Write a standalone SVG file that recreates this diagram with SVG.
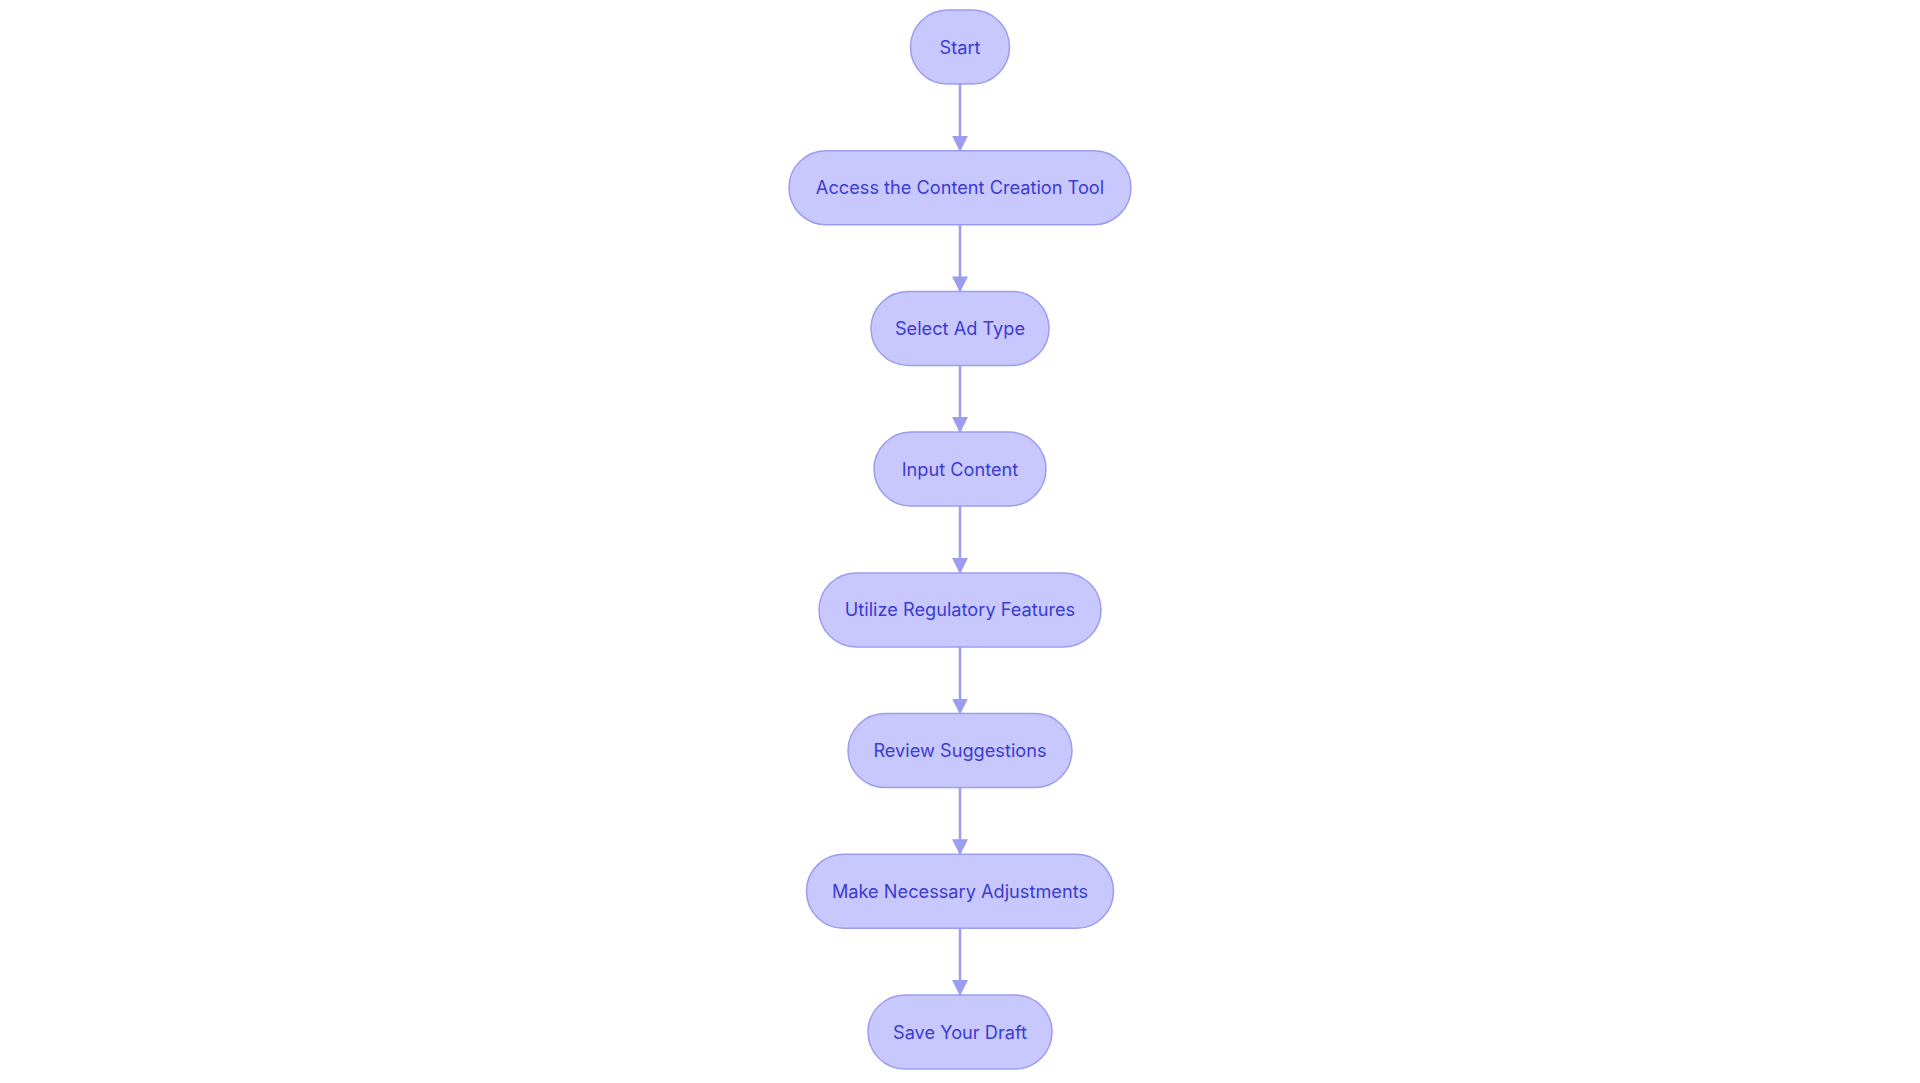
<svg xmlns="http://www.w3.org/2000/svg" width="1920" height="1083" viewBox="0 0 1920 1083">
<style>
.node rect{fill:#c8c8ff;stroke:#9c9cf0;stroke-width:1.5}
.node text{font-family:Inter,"Noto Sans",sans-serif;font-size:18.2px;fill:#3b3bd0;text-anchor:middle}
.edge{stroke:#9c9cf0;stroke-width:2.5;fill:none}
</style>
<defs>
<marker id="arr" markerWidth="16" markerHeight="16" refX="15" refY="8" orient="auto" markerUnits="userSpaceOnUse" viewBox="0 0 16 16">
<path d="M0,0 L16,8 L0,16 z" fill="#9c9cf0"/>
</marker>
</defs>
<rect width="1920" height="1083" fill="#ffffff"/>
<g id="connectors">
<line class="edge" x1="960" y1="84" x2="960" y2="150.7" marker-end="url(#arr)"/>
<line class="edge" x1="960" y1="224.7" x2="960" y2="291.4" marker-end="url(#arr)"/>
<line class="edge" x1="960" y1="365.4" x2="960" y2="432.1" marker-end="url(#arr)"/>
<line class="edge" x1="960" y1="506.1" x2="960" y2="572.9" marker-end="url(#arr)"/>
<line class="edge" x1="960" y1="646.9" x2="960" y2="713.6" marker-end="url(#arr)"/>
<line class="edge" x1="960" y1="787.6" x2="960" y2="854.3" marker-end="url(#arr)"/>
<line class="edge" x1="960" y1="928.3" x2="960" y2="995" marker-end="url(#arr)"/>
</g>
<g id="start" class="node"><rect x="910.5" y="10" width="99" height="74" rx="37"/><text x="960" y="53.5">Start</text></g>
<g id="access" class="node"><rect x="789" y="150.7" width="342" height="74" rx="37"/><text x="960" y="194.2">Access the Content Creation Tool</text></g>
<g id="select" class="node"><rect x="871" y="291.4" width="178" height="74" rx="37"/><text x="960" y="334.9">Select Ad Type</text></g>
<g id="input" class="node"><rect x="874" y="432.1" width="172" height="74" rx="37"/><text x="960" y="475.6">Input Content</text></g>
<g id="utilize" class="node"><rect x="819" y="572.9" width="282" height="74" rx="37"/><text x="960" y="616.4">Utilize Regulatory Features</text></g>
<g id="review" class="node"><rect x="848" y="713.6" width="224" height="74" rx="37"/><text x="960" y="757.1">Review Suggestions</text></g>
<g id="make" class="node"><rect x="806.5" y="854.3" width="307" height="74" rx="37"/><text x="960" y="897.8">Make Necessary Adjustments</text></g>
<g id="save" class="node"><rect x="868" y="995" width="184" height="74" rx="37"/><text x="960" y="1038.5">Save Your Draft</text></g>
</svg>
